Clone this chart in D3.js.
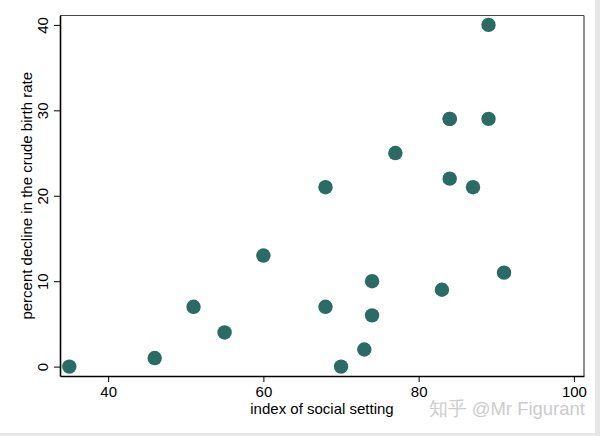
<!DOCTYPE html>
<html><head><meta charset="utf-8">
<script src="https://cdn.jsdelivr.net/npm/d3@7"></script>
<style>body{margin:0;background:#fff}svg{display:block}text{font-family:"Liberation Sans",Arial,sans-serif}</style>
</head><body>
<svg id="c" width="600" height="436"></svg>
<script>
const setting = [46,74,89,77,84,89,68,70,60,55,35,51,87,83,68,84,74,73,84,91];
const change  = [1,10,29,25,29,40,21,0,13,4,0,7,21,9,7,22,6,2,29,11];
const xTicks = [40,60,80,100];
const yTicks = [0,10,20,30,40];
const xTitle = "index of social setting";
const yTitle = "percent decline in the crude birth rate";
const watermark = "知乎 @Mr Figurant";

const svg = d3.select("#c");
const L=60, R=584, T=15.5, B=376;
const x = d3.scaleLinear().domain([33.8,101.3]).range([L,R]);
const y = d3.scaleLinear().domain([-1.1,41.1]).range([B,T]);

// image border strips
svg.append("rect").attr("x",595).attr("y",0).attr("width",5).attr("height",436).attr("fill","#e6e6e6");
svg.append("rect").attr("x",0).attr("y",433).attr("width",600).attr("height",3).attr("fill","#e6e6e6");

// frame top/right
svg.append("line").attr("x1",L).attr("x2",R).attr("y1",T).attr("y2",T).attr("stroke","#444").attr("stroke-width",1.2);
svg.append("line").attr("x1",R).attr("x2",R).attr("y1",T).attr("y2",B).attr("stroke","#444").attr("stroke-width",1.2);

const xa = svg.append("g").attr("transform",`translate(0,${B})`)
  .call(d3.axisBottom(x).tickValues(xTicks).tickSize(6).tickPadding(4).tickSizeOuter(0));
xa.select(".domain").attr("stroke","#000").attr("stroke-width",1.6);
xa.selectAll(".tick line").attr("stroke","#000").attr("stroke-width",1);
xa.selectAll(".tick text").attr("font-size",15).attr("fill","#000").attr("font-family","Liberation Sans, Arial, sans-serif");

const ya = svg.append("g").attr("transform",`translate(${L},0)`)
  .call(d3.axisLeft(y).tickValues(yTicks).tickSize(6).tickPadding(4).tickSizeOuter(0));
ya.select(".domain").attr("stroke","#000").attr("stroke-width",1.6);
ya.selectAll(".tick line").attr("stroke","#000").attr("stroke-width",1);
ya.selectAll(".tick text").attr("font-size",15).attr("fill","#000").attr("font-family","Liberation Sans, Arial, sans-serif")
  .attr("transform","rotate(-90)").attr("x",0).attr("y",-12).attr("dy",0).attr("text-anchor","middle");

svg.append("text").attr("x",(L+R)/2).attr("y",414).attr("text-anchor","middle").attr("font-size",15).attr("fill","#000").text(xTitle);
svg.append("text").attr("transform",`translate(32,${(T+B)/2}) rotate(-90)`).attr("text-anchor","middle").attr("font-size",15).attr("fill","#000").text(yTitle);

svg.append("g").selectAll("circle").data(setting.map((s,i)=>[s,change[i]])).join("circle")
  .attr("cx",d=>x(d[0])).attr("cy",d=>y(d[1])).attr("r",7.2).attr("fill","#2a6b64");

svg.append("text").attr("x",585).attr("y",415).attr("text-anchor","end").attr("font-size",18.5)
  .attr("font-family","Noto Sans CJK SC, sans-serif").attr("fill","#cccccc").text(watermark);
</script>
</body></html>
